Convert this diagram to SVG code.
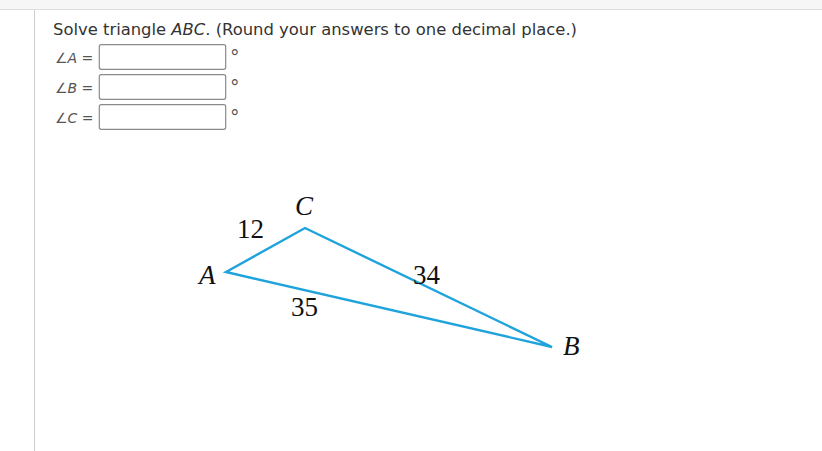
<svg xmlns="http://www.w3.org/2000/svg" width="822" height="451" viewBox="0 0 822 451">
<style>
.q{font-family:"DejaVu Sans",Verdana,sans-serif;font-size:16px;fill:#333}
.lbl{font-family:"DejaVu Sans",Verdana,sans-serif;font-size:14px;fill:#555}
.deg{font-family:"DejaVu Sans",Verdana,sans-serif;font-size:19px;fill:#555}
.box{fill:#fff;stroke:#8a8a8a;stroke-width:1.2}
.v{font-family:"Liberation Serif","DejaVu Serif",serif;font-size:27px;font-style:italic;fill:#111}
.n{font-family:"Liberation Serif","DejaVu Serif",serif;font-size:27px;fill:#111}
.edge{fill:none;stroke:#1fa3dc;stroke-width:2.4;stroke-linejoin:miter}
</style>
<rect width="822" height="451" fill="#fff"/>
<rect x="0" y="0" width="822" height="9.5" fill="#f6f6f6"/>
<line x1="0" y1="9.5" x2="822" y2="9.5" stroke="#dedede"/>
<line x1="34.5" y1="10" x2="34.5" y2="451" stroke="#cfcfcf"/>
<g id="question">
<text class="q" x="53" y="35" textLength="524" lengthAdjust="spacingAndGlyphs">Solve triangle <tspan font-style="italic">ABC</tspan>. (Round your answers to one decimal place.)</text>
</g>
<g id="answerA">
<text class="lbl" x="55" y="63">∠<tspan font-style="italic">A</tspan> =</text>
<rect class="box" x="99.3" y="44.7" width="126.4" height="24.6" rx="2"/>
<text class="deg" x="230" y="64">°</text>
</g>
<g id="answerB">
<text class="lbl" x="55" y="93">∠<tspan font-style="italic">B</tspan> =</text>
<rect class="box" x="99.3" y="74.7" width="126.4" height="24.6" rx="2"/>
<text class="deg" x="230" y="94">°</text>
</g>
<g id="answerC">
<text class="lbl" x="55" y="123">∠<tspan font-style="italic">C</tspan> =</text>
<rect class="box" x="99.3" y="104.7" width="126.4" height="24.6" rx="2"/>
<text class="deg" x="230" y="124">°</text>
</g>
<g id="connectors">
<polygon class="edge" points="226,272 305,228 552,347"/>
</g>
<g id="vertexA"><text class="v" x="199" y="284">A</text></g>
<g id="vertexB"><text class="v" x="563" y="355">B</text></g>
<g id="vertexC"><text class="v" x="295" y="215">C</text></g>
<g id="side12"><text class="n" x="237" y="238">12</text></g>
<g id="side34"><text class="n" x="413" y="284">34</text></g>
<g id="side35"><text class="n" x="291" y="316">35</text></g>
</svg>
